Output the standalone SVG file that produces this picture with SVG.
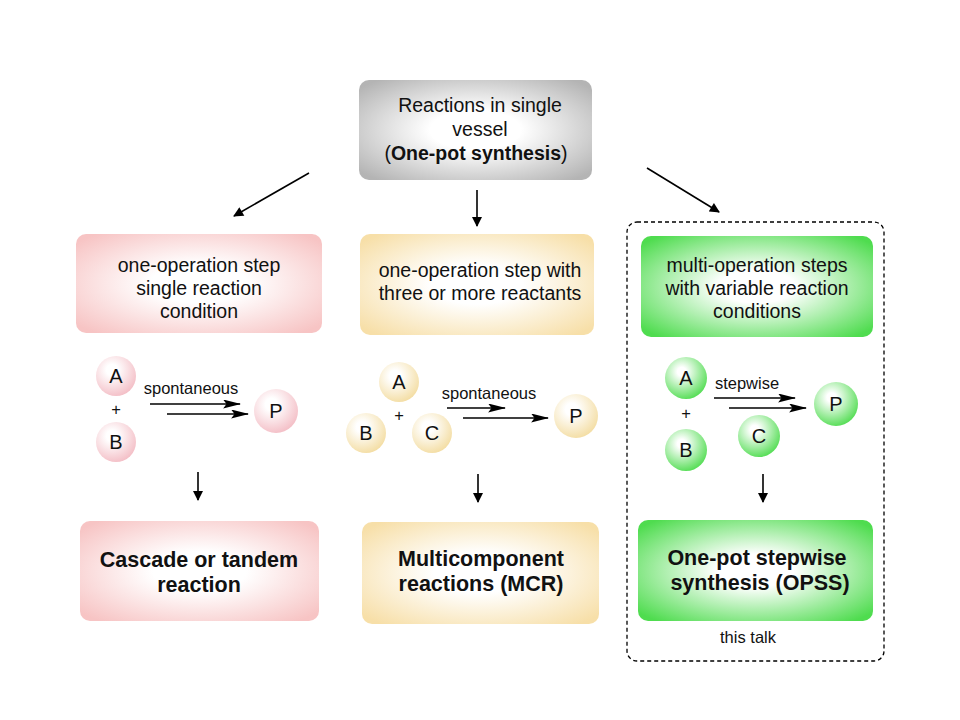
<svg xmlns="http://www.w3.org/2000/svg" width="960" height="720" viewBox="0 0 960 720">
<defs>
<radialGradient id="gg" cx="50%" cy="50%" r="65%"><stop offset="0.3" stop-color="#ffffff"/><stop offset="1" stop-color="#b4b4b4"/></radialGradient>
<radialGradient id="gp" cx="50%" cy="50%" r="65%"><stop offset="0.3" stop-color="#ffffff"/><stop offset="1" stop-color="#f7c4c4"/></radialGradient>
<radialGradient id="gy" cx="50%" cy="50%" r="65%"><stop offset="0.3" stop-color="#ffffff"/><stop offset="1" stop-color="#f7dfa8"/></radialGradient>
<radialGradient id="gn" cx="50%" cy="50%" r="65%"><stop offset="0.25" stop-color="#ffffff"/><stop offset="1" stop-color="#4fdc4f"/></radialGradient>
<radialGradient id="cp" cx="40%" cy="35%" r="70%"><stop offset="0.2" stop-color="#ffffff"/><stop offset="1" stop-color="#f3bcc4"/></radialGradient>
<radialGradient id="cy" cx="40%" cy="35%" r="70%"><stop offset="0.2" stop-color="#ffffff"/><stop offset="1" stop-color="#f3dca0"/></radialGradient>
<radialGradient id="cn" cx="40%" cy="35%" r="70%"><stop offset="0.15" stop-color="#ffffff"/><stop offset="1" stop-color="#4fdc4f"/></radialGradient>
<marker id="ah" viewBox="0 0 10 10" refX="9" refY="5" markerWidth="11" markerHeight="10" markerUnits="userSpaceOnUse" orient="auto"><path d="M0,0 L10,5 L0,10 Z" fill="#000"/></marker>
<marker id="ah2" viewBox="0 0 16 8" refX="15" refY="4" markerWidth="18" markerHeight="9" markerUnits="userSpaceOnUse" orient="auto"><path d="M0,0 L16,4 L0,8 L3,4 Z" fill="#000"/></marker>
</defs>
<style>
text{font-family:"Liberation Sans",Arial,sans-serif;fill:#111;text-anchor:middle}
.t{font-size:19.5px}
.b{font-size:21.5px;font-weight:bold}
.s{font-size:16.5px}
.l{font-size:20px}
.ln{stroke:#000;stroke-width:1.6;fill:none}
</style>
<rect width="960" height="720" fill="#fff"/>
<rect x="627" y="222" width="257" height="439" rx="10" fill="none" stroke="#000" stroke-width="1.3" stroke-dasharray="4,3"/>
<g id="top"><rect x="359" y="80" width="233" height="100" rx="10" fill="url(#gg)"/>
<text class="t" x="480" y="112">Reactions in single</text><text class="t" x="480" y="136">vessel</text>
<text class="t" x="476" y="160">(<tspan font-weight="bold">One-pot synthesis</tspan>)</text></g>
<g id="n1"><rect x="76" y="234" width="246" height="99" rx="10" fill="url(#gp)"/>
<text class="t" x="199" y="272">one-operation step</text><text class="t" x="199" y="295">single reaction</text><text class="t" x="199" y="318">condition</text></g>
<g id="n2"><rect x="360" y="234" width="234" height="101" rx="10" fill="url(#gy)"/>
<text class="t" x="480" y="277">one-operation step with</text><text class="t" x="480" y="300">three or more reactants</text></g>
<g id="n3"><rect x="641" y="236" width="232" height="101" rx="10" fill="url(#gn)"/>
<text class="t" x="757" y="272">multi-operation steps</text><text class="t" x="757" y="295">with variable reaction</text><text class="t" x="757" y="318">conditions</text></g>
<g id="s1">
<circle cx="116" cy="376" r="20" fill="url(#cp)"/><text class="l" x="116" y="383">A</text>
<text class="s" x="116" y="415" fill="#555">+</text>
<circle cx="116" cy="442" r="20" fill="url(#cp)"/><text class="l" x="116" y="449">B</text>
<circle cx="276" cy="411" r="22" fill="url(#cp)"/><text class="l" x="276" y="418">P</text>
<text class="s" x="191" y="394">spontaneous</text></g>
<g id="s2">
<circle cx="399" cy="382" r="20" fill="url(#cy)"/><text class="l" x="399" y="389">A</text>
<text class="s" x="399" y="421" fill="#555">+</text>
<circle cx="366" cy="433" r="20" fill="url(#cy)"/><text class="l" x="366" y="440">B</text>
<circle cx="432" cy="433" r="20" fill="url(#cy)"/><text class="l" x="432" y="440">C</text>
<circle cx="576" cy="416" r="22" fill="url(#cy)"/><text class="l" x="576" y="423">P</text>
<text class="s" x="489" y="399">spontaneous</text></g>
<g id="s3">
<circle cx="686" cy="378" r="21" fill="url(#cn)"/><text class="l" x="686" y="385">A</text>
<text class="s" x="686" y="419" fill="#555">+</text>
<circle cx="686" cy="450" r="21" fill="url(#cn)"/><text class="l" x="686" y="457">B</text>
<circle cx="759" cy="436" r="21" fill="url(#cn)"/><text class="l" x="759" y="443">C</text>
<circle cx="836" cy="404" r="22" fill="url(#cn)"/><text class="l" x="836" y="411">P</text>
<text class="s" x="747" y="389">stepwise</text></g>
<g id="b1"><rect x="80" y="521" width="239" height="100" rx="10" fill="url(#gp)"/>
<text class="b" x="199" y="567">Cascade or tandem</text><text class="b" x="199" y="592">reaction</text></g>
<g id="b2"><rect x="362" y="522" width="237" height="102" rx="10" fill="url(#gy)"/>
<text class="b" x="481" y="566">Multicomponent</text><text class="b" x="481" y="591">reactions (MCR)</text></g>
<g id="b3"><rect x="638" y="520" width="235" height="101" rx="10" fill="url(#gn)"/>
<text class="b" x="757" y="565">One-pot stepwise</text><text class="b" x="760" y="590">synthesis (OPSS)</text></g>
<text class="s" x="748" y="643">this talk</text>
<g id="connectors" class="ln">
<line x1="309" y1="173" x2="234" y2="216" marker-end="url(#ah)"/>
<line x1="477" y1="190" x2="477" y2="226" marker-end="url(#ah)"/>
<line x1="647" y1="168" x2="719" y2="212" marker-end="url(#ah)"/>
<line x1="198" y1="472" x2="198" y2="500" marker-end="url(#ah)"/>
<line x1="478" y1="474" x2="478" y2="502" marker-end="url(#ah)"/>
<line x1="763" y1="474" x2="763" y2="502" marker-end="url(#ah)"/>
<line x1="150" y1="404" x2="240" y2="404" marker-end="url(#ah2)"/>
<line x1="167" y1="414" x2="248" y2="414" marker-end="url(#ah2)"/>
<line x1="447" y1="408" x2="505" y2="408" marker-end="url(#ah2)"/>
<line x1="463" y1="418" x2="548" y2="418" marker-end="url(#ah2)"/>
<line x1="714" y1="398" x2="795" y2="398" marker-end="url(#ah2)"/>
<line x1="729" y1="408" x2="806" y2="408" marker-end="url(#ah2)"/>
</g>
</svg>
